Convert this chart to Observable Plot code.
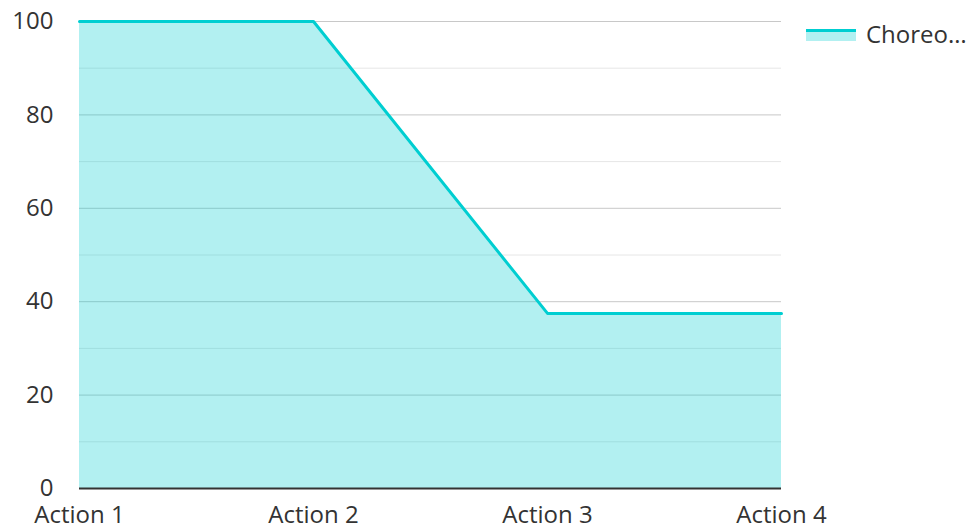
<!DOCTYPE html>
<html>
<head>
<meta charset="utf-8">
<script src="https://cdn.jsdelivr.net/npm/d3@7"></script>
<script src="https://cdn.jsdelivr.net/npm/@observablehq/plot@0.6"></script>
<style>
  body { margin: 0; background: #fff; font-family: "Open Sans", "Noto Sans", sans-serif; }
  #wrap { position: relative; width: 971px; height: 529px; }
  #legend { position: absolute; left: 806px; top: 17px; display: flex; align-items: center; font-size: 24px; color: #333; white-space: nowrap; }
  #legend .sw { position: relative; width: 50px; height: 14px; margin-right: 10px; }
  #legend .sw .a { position: absolute; left: 0; top: 3px; width: 50px; height: 11px; background: #00CED1; opacity: 0.3; }
  #legend .sw .l { position: absolute; left: 0; top: 2px; width: 50px; height: 3px; background: #00CED1; }
</style>
</head>
<body>
<div id="wrap">
  <div id="chart"></div>
  <div id="legend"><div class="sw"><div class="a"></div><div class="l"></div></div><span>Choreo…</span></div>
</div>
<script>
const categories = ["Action 1", "Action 2", "Action 3", "Action 4"];
const values = [100, 100, 37.5, 37.5];
const seriesName = "Choreo…";
const majorTicks = [0, 20, 40, 60, 80, 100];
const minorTicks = [10, 30, 50, 70, 90];

const data = categories.map((c, i) => ({ action: c, value: values[i], series: seriesName }));
const color = "#00CED1";

const chart = Plot.plot({
  width: 971,
  height: 529,
  marginLeft: 79,
  marginRight: 190,
  marginTop: 21,
  marginBottom: 41,
  style: { fontFamily: "'Open Sans', 'Noto Sans', sans-serif", fontSize: "24px", color: "#333", background: "#fff", overflow: "visible" },
  x: { type: "point", domain: categories, padding: 0, label: null },
  y: { domain: [0, 100], label: null },
  marks: [
    Plot.ruleY(minorTicks, { stroke: "#e6e6e6", strokeWidth: 1 }),
    Plot.ruleY(majorTicks.filter(d => d !== 0), { stroke: "#c8c8c8", strokeWidth: 1 }),
    Plot.areaY(data, { x: "action", y: "value", fill: color, fillOpacity: 0.3, curve: "linear" }),
    Plot.lineY(data, { x: "action", y: "value", stroke: color, strokeWidth: 3, curve: "linear" }),
    Plot.ruleY([0], { stroke: "#333", strokeWidth: 2 }),
    Plot.axisY({ ticks: majorTicks, tickSize: 0, tickPadding: 26, fontSize: 24, fill: "#333" }),
    Plot.axisX({ ticks: categories, tickSize: 0, tickPadding: 17, fontSize: 24, fill: "#333" })
  ]
});
document.getElementById("chart").appendChild(chart);
</script>
</body>
</html>
